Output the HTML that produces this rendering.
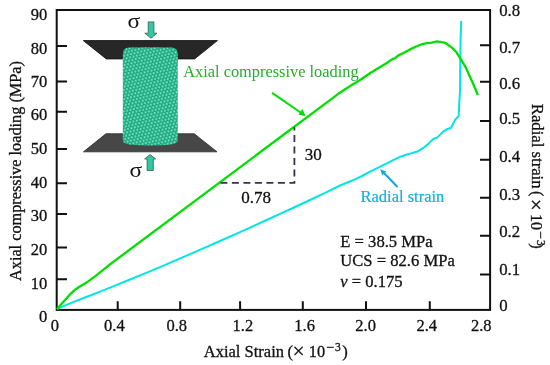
<!DOCTYPE html>
<html><head><meta charset="utf-8">
<style>
html,body{margin:0;padding:0;background:#fff;}
body{width:550px;height:365px;overflow:hidden;}
svg{display:block;}
text{font-family:"Liberation Serif","DejaVu Serif",serif;stroke:#111;stroke-width:0.3px;}
</style></head><body>
<svg width="550" height="365" viewBox="0 0 550 365">
<defs>
<radialGradient id="bg1" cx="0.4" cy="0.36" r="0.64">
<stop offset="0" stop-color="#d2fbec"/>
<stop offset="0.28" stop-color="#68dcb7"/>
<stop offset="0.7" stop-color="#2bbd93"/>
<stop offset="1" stop-color="#18a07a"/>
</radialGradient>
<pattern id="beads" width="3.5" height="6" patternUnits="userSpaceOnUse" x="123" y="47" patternTransform="rotate(-14)">
<rect width="3.5" height="6" fill="#128e6a"/>
<circle cx="1.75" cy="1.5" r="1.65" fill="url(#bg1)"/>
<circle cx="0" cy="4.5" r="1.65" fill="url(#bg1)"/>
<circle cx="3.5" cy="4.5" r="1.65" fill="url(#bg1)"/>
</pattern>
</defs>

<!-- frame -->
<g stroke="#111" stroke-width="2" fill="none">
<rect x="56.7" y="10" width="433.4" height="299.9"/>
<!-- left ticks -->
<path d="M57 46H67M57 81.5H67M57 111.8H67M57 149H67M57 183.3H67M57 214.1H67M57 247.4H67M57 279.3H67"/>
<!-- right ticks -->
<path d="M490 45.3H480M490 81.7H480M490 121H480M490 159.8H480M490 197.7H480M490 235.8H480M490 274.4H480"/>
<!-- bottom ticks -->
<path d="M117.7 309.9V301.2M180.2 309.9V301.2M240.1 309.9V301.2M302.8 309.9V301.2M366 309.9V301.2M429.8 309.9V301.2"/>
</g>

<!-- left labels -->
<g font-size="16.5" text-anchor="end" fill="#111" transform="translate(0,0.7)">
<text x="47.3" y="19.7">90</text>
<text x="47.3" y="53.4">80</text>
<text x="47.3" y="86.3">70</text>
<text x="47.3" y="119.8">60</text>
<text x="47.3" y="153.8">50</text>
<text x="47.3" y="187">40</text>
<text x="47.3" y="220.8">30</text>
<text x="47.3" y="254">20</text>
<text x="47.3" y="288">10</text>
<text x="47.3" y="321">0</text>
</g>
<!-- right labels -->
<g font-size="16.8" fill="#111" transform="translate(0,0.8)">
<text x="499.2" y="15">0.8</text>
<text x="499.2" y="51.8">0.7</text>
<text x="499.2" y="88.2">0.6</text>
<text x="499.2" y="123.6">0.5</text>
<text x="499.2" y="161.5">0.4</text>
<text x="499.2" y="199.3">0.3</text>
<text x="499.2" y="235.8">0.2</text>
<text x="499.2" y="274">0.1</text>
<text x="499.2" y="310">0</text>
</g>
<!-- bottom labels -->
<g font-size="16.5" text-anchor="middle" fill="#111" transform="translate(0,1)">
<text x="54.9" y="330.3">0</text>
<text x="114.4" y="330.3">0.4</text>
<text x="176.8" y="330.3">0.8</text>
<text x="242.9" y="330.3">1.2</text>
<text x="304.6" y="330.3">1.6</text>
<text x="365.6" y="330.3">2.0</text>
<text x="426.8" y="330.3">2.4</text>
<text x="481.2" y="330.3">2.8</text>
</g>

<!-- axis titles -->
<g fill="#111">
<text x="203.8" y="357" font-size="16.5">Axial Strain</text>
<text x="287.5" y="357" font-size="16.5">(</text>
<text x="292.6" y="358.2" font-size="21.5">×</text>
<text x="308.8" y="356.5" font-size="16.3">10</text>
<text x="326.6" y="352" font-size="14">−</text>
<text x="335" y="351" font-size="11.5">3</text>
<text x="342.2" y="357" font-size="16.5">)</text>
</g>
<text transform="translate(20.5,281) rotate(-90)" font-size="16" textLength="220" lengthAdjust="spacingAndGlyphs" fill="#111">Axial compressive loading (MPa)</text>
<g transform="translate(531.5,0) rotate(90)" fill="#111">
<text x="103.8" y="0" font-size="16.7">Radial strain</text>
<text x="191" y="0" font-size="16.5">(</text>
<text x="198.8" y="2.6" font-size="21">×</text>
<text x="214" y="0.5" font-size="16">10</text>
<text x="231.2" y="-4.8" font-size="14">−</text>
<text x="240" y="-5.5" font-size="11.5">3</text>
<text x="243.2" y="0" font-size="16.5">)</text>
</g>

<!-- specimen -->
<polygon points="83.3,40.6 217.4,40.6 194.6,58.9 106.3,58.9" fill="#272727" stroke="#151515" stroke-width="0.9" stroke-linejoin="round"/>
<polygon points="105.9,133.8 194.2,133.8 217,151.8 83.5,151.8" fill="#474747" stroke="#333" stroke-width="0.9" stroke-linejoin="round"/>
<path d="M122.8 54 Q122.8 47.6 129 47.4 Q150.3 46.9 171.5 47.4 Q177.8 47.6 177.8 54 V140 Q177.8 143.8 170 144.8 Q150.3 146.4 130.5 144.8 Q122.8 143.8 122.8 140 Z" fill="url(#beads)"/>
<text x="127.4" y="28" font-size="22" textLength="12.6" lengthAdjust="spacingAndGlyphs" fill="#111" style="stroke:none">σ</text>
<text x="129.6" y="176.9" font-size="22" textLength="12.6" lengthAdjust="spacingAndGlyphs" fill="#111" style="stroke:none">σ</text>
<path d="M148.2 21.9H153.9V33.2H157L151 38.2L144.8 33.2H148.2Z" fill="#2ec99e" stroke="#3a5a50" stroke-width="0.8"/>
<path d="M150 154.5L155.7 159H153.3V170.5H147.1V159H144.6Z" fill="#2ec99e" stroke="#3a5a50" stroke-width="0.8"/>

<!-- curves -->
<polyline fill="none" stroke="#00e6e0" stroke-width="2" stroke-linejoin="round" points="57,309 70,303.41 85,297.53 100,291.6 115,285.6 130,279.54 145,273.42 160,267.11 175,260.67 190,254.18 205,247.62 220,241 235,234.32 250,227.58 265,220.78 280,213.91 295,206.99 310,200.01 325,192.96 340,185.5 348,182.3 355,179.4 362,176 370,171.6 378.6,167.3 385.9,163.8 393.2,160.2 400.5,156.7 407.7,154.3 410,153.6 416.8,151.8 423.7,147.7 429.2,142.9 433.3,139 437.4,137.4 442.9,131.9 447,129.2 451.1,127.8 453.2,123.7 455.2,119.6 458.6,116.2 459,110 459.3,103 460,90 460.3,60 460.6,40 461.2,21"/>
<polyline fill="none" stroke="#00e000" stroke-width="2.3" stroke-linejoin="round" points="57,309 64.6,300.4 69.4,295 74.2,290.4 79,287 83.8,284.2 88.6,281.1 95,276.3 111.9,262.93 338,94.07 344,90 350,86.1 356,82.6 362,78.8 370,73.2 375.5,69.8 381,66.5 386.4,63.2 391.9,59.4 395.2,58 398.5,55.4 402.9,53.2 410,49.4 415.5,46.7 421,44.5 426.4,43.1 431.9,42.7 436.3,41.5 440.7,41.8 445.1,42.8 451.6,47.4 456.5,52.3 460.6,58.9 465.6,67.1 469.7,76.2 473.8,85.2 477.9,95.1"/>

<!-- dashed triangle -->
<path d="M220.4 182.9H294.4V127.3" fill="none" stroke="#3c2f52" stroke-width="1.8" stroke-dasharray="7 4.5"/>
<text x="304.8" y="160.3" font-size="17" fill="#111">30</text>
<text x="241.2" y="202.5" font-size="17" fill="#111">0.78</text>

<!-- annotations -->
<text x="183.2" y="77.4" font-size="16.2" textLength="175.5" lengthAdjust="spacingAndGlyphs" fill="#2ea92e" style="stroke:none">Axial compressive loading</text>
<line x1="272.1" y1="92.9" x2="302" y2="113.5" stroke="#00e000" stroke-width="2"/>
<polygon points="305.6,116.2 298.5,114.5 302.5,109" fill="#00e000"/>
<text x="360.5" y="202.2" font-size="16.5" fill="#10b0e4" style="stroke:#10b0e4;stroke-width:0.2px">Radial strain</text>
<line x1="397" y1="186.4" x2="383" y2="172" stroke="#13a8dc" stroke-width="2.1" stroke-linecap="round"/>
<polygon points="380.1,169.2 386.4,171.6 382.4,175.4" fill="#13a8dc"/>

<g font-size="16.6" fill="#111">
<text x="340.3" y="246.8">E = 38.5 MPa</text>
<text x="340.3" y="266.3">UCS = 82.6 MPa</text>
<text x="340.3" y="286.8"><tspan font-style="italic">ν</tspan> = 0.175</text>
</g>
</svg>
</body></html>
